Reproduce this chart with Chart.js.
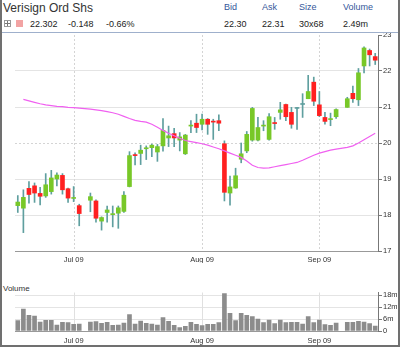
<!DOCTYPE html>
<html><head><meta charset="utf-8">
<script src="https://cdn.jsdelivr.net/npm/chart.js@4.4.0/dist/chart.umd.min.js"></script>
<style>
html,body{margin:0;padding:0;background:#fff;}
#frame{position:relative;width:400px;height:347px;overflow:hidden;font-family:"Liberation Sans",Arial,sans-serif;background:#fff;}
.t{position:absolute;white-space:nowrap;line-height:10px;}
canvas{position:absolute;left:0;}
</style></head><body>
<div id="frame">
  <div class="t" style="left:3px;top:1px;font-size:12px;line-height:14px;color:#333;">Verisign Ord Shs</div>
  <div class="t" style="left:224px;top:2px;font-size:9px;color:#34569a;">Bid</div>
  <div class="t" style="left:262px;top:2px;font-size:9px;color:#34569a;">Ask</div>
  <div class="t" style="left:299px;top:2px;font-size:9px;color:#34569a;">Size</div>
  <div class="t" style="left:343px;top:2px;font-size:9px;color:#34569a;">Volume</div>
  <div style="position:absolute;left:4px;top:20px;width:5px;height:5px;border:1px solid #999;"></div>
  <div style="position:absolute;left:5px;top:23px;width:5px;height:1px;background:#777;"></div>
  <div style="position:absolute;left:7px;top:21px;width:1px;height:5px;background:#777;"></div>
  <div style="position:absolute;left:16px;top:20px;width:7px;height:7px;background:#f2a3a3;"></div>
  <div class="t" style="left:30px;top:19px;font-size:9px;color:#222;">22.302</div>
  <div class="t" style="left:68px;top:19px;font-size:9px;color:#222;">-0.148</div>
  <div class="t" style="left:106px;top:19px;font-size:9px;color:#222;">-0.66%</div>
  <div class="t" style="left:224px;top:19px;font-size:9px;color:#222;">22.30</div>
  <div class="t" style="left:262px;top:19px;font-size:9px;color:#222;">22.31</div>
  <div class="t" style="left:299px;top:19px;font-size:9px;color:#222;">30x68</div>
  <div class="t" style="left:343px;top:19px;font-size:9px;color:#222;">2.49m</div>
  <div style="position:absolute;left:0;top:32px;width:400px;height:1px;background:#9fb0cc;"></div>
  <canvas id="price" width="400" height="230" style="top:33px"></canvas>
  <div class="t" style="left:3px;top:284px;font-size:8px;color:#333;">Volume</div>
  <canvas id="vol" width="400" height="60" style="top:286px"></canvas>
  <div style="position:absolute;left:0;top:0;width:400px;height:347px;box-sizing:border-box;border:2px solid #707070;border-top:none;pointer-events:none;"></div>
</div>
<script>
const dates = ['06-17','06-18','06-19','06-22','06-23','06-24','06-25','06-26','06-29','06-30',
 '07-01','07-02','07-03','07-06','07-07','07-08','07-09','07-10','07-13','07-14','07-15','07-16','07-17','07-20','07-21','07-22','07-23','07-24','07-27','07-28','07-29','07-30','07-31',
 '08-03','08-04','08-05','08-06','08-07','08-10','08-11','08-12','08-13','08-14','08-17','08-18','08-19','08-20','08-21','08-24','08-25','08-26','08-27','08-28','08-31',
 '09-01','09-02','09-03','09-04','09-07','09-08','09-09','09-10','09-11','09-14','09-15'];
const opens = [18.26,18.19,18.74,18.81,18.60,18.53,18.65,19.00,19.10,18.73,18.46,18.26,null,18.41,18.39,17.83,18.07,18.01,18.05,18.10,18.79,19.67,19.71,19.84,19.87,19.75,19.92,20.14,20.26,20.08,19.70,20.47,20.55,20.52,20.66,20.60,20.62,19.98,18.61,18.75,19.55,19.78,20.08,20.08,20.47,20.10,20.56,20.85,21.07,20.85,20.96,21.07,21.23,21.69,21.06,20.71,20.65,20.73,null,20.99,21.38,21.20,22.14,22.57,22.40];
const highs = [18.54,18.70,18.93,18.89,18.77,19.15,19.24,19.17,19.15,18.75,18.79,18.30,null,18.61,18.42,17.95,18.25,18.25,18.25,18.65,19.76,19.73,19.94,19.92,19.97,19.96,20.68,20.47,20.41,20.29,20.24,20.62,20.80,20.80,20.68,20.66,20.78,20.06,19.08,19.30,20.00,20.32,20.99,20.71,20.62,20.82,20.71,21.13,21.08,20.99,20.99,21.37,21.88,21.83,21.43,20.85,20.83,20.95,null,21.27,21.58,22.07,22.67,22.61,22.49];
const lows = [18.07,17.51,18.33,18.35,18.28,18.49,18.58,18.81,18.58,18.35,18.37,17.70,null,18.09,17.80,17.58,17.80,17.67,17.63,18.07,18.78,19.39,19.40,19.54,19.62,19.49,19.77,19.90,19.90,19.78,19.68,20.29,20.29,20.36,20.24,20.10,20.34,18.39,18.27,18.74,19.45,19.73,20.05,20.06,20.34,20.08,20.38,20.66,20.62,20.41,20.38,20.71,21.23,21.04,20.73,20.52,20.48,20.68,null,20.99,21.13,21.04,21.95,22.14,22.18];
const closes = [18.36,18.49,18.57,18.61,18.52,18.84,19.03,19.11,18.70,18.47,18.48,18.04,null,18.51,17.91,17.93,18.14,18.03,18.20,18.55,19.65,19.65,19.80,19.85,19.94,19.90,20.35,20.20,20.14,20.17,20.22,20.49,20.43,20.66,20.52,20.58,20.55,18.63,18.78,19.09,19.70,20.24,20.96,20.43,20.49,20.73,20.54,20.92,20.73,20.52,20.96,21.07,21.43,21.16,20.76,20.60,20.67,20.93,null,21.23,21.23,21.95,22.64,22.45,22.30];
const movingAvg = [null,21.21,21.17,21.13,21.09,21.06,21.04,21.02,21.01,20.99,20.98,20.97,null,20.94,20.92,20.90,20.87,20.84,20.80,20.74,20.68,20.63,20.60,20.58,20.52,20.44,20.35,20.27,20.20,20.13,20.07,20.04,20.01,19.98,19.94,19.89,19.84,19.78,19.72,19.66,19.60,19.50,19.38,19.32,19.30,19.31,19.34,19.37,19.40,19.43,19.46,19.52,19.59,19.66,19.72,19.76,19.80,19.83,null,19.88,19.92,20.00,20.09,20.18,20.27];
const volumes = [5.2,11.0,7.8,7.5,4.5,5.3,5.3,3.0,4.3,4.2,3.3,3.5,null,4.5,4.7,3.8,4.3,2.8,3.0,4.0,8.2,3.5,5.0,3.8,3.5,3.0,6.7,4.8,2.8,1.7,2.3,4.3,3.3,2.7,3.3,3.3,4.2,18.8,8.8,5.2,8.8,7.8,7.2,6.0,4.2,5.5,3.7,5.5,4.2,4.3,4.3,3.5,7.2,4.2,5.5,3.2,2.8,4.0,null,4.3,4.3,4.8,4.5,3.7,2.49];
const monthTickDates = ['07-01','08-03','09-01'];
const monthTickLabels = ['Jul 09','Aug 09','Sep 09'];
const priceTicks = [17,18,19,20,21,22,23];
const volumeTicks = [0,6,12,18];
const volumeTickLabels = ['0','6m','12m','18m'];

const UP = '#78c828', DOWN = '#ff2020', FLAT = '#5f9f9f', WICK = '#5f9f9f';
const monthIdx = monthTickDates.map(d => dates.indexOf(d));
const bodies = opens.map((o,i) => o == null ? null : [Math.min(o, closes[i]), Math.max(o, closes[i])]);
const bodyColors = opens.map((o,i) => o == null ? UP : (closes[i] > o ? UP : closes[i] < o ? DOWN : FLAT));
const wicks = lows.map((l,i) => l == null ? null : [l, highs[i]]);

Chart.defaults.font.family = '"Liberation Sans", Arial, sans-serif';
Chart.defaults.color = '#333';

const refLines = {
  id: 'refLines',
  beforeDatasetsDraw(chart, args, opts) {
    const {ctx, chartArea: a, scales: {x, y}} = chart;
    ctx.save();
    ctx.lineWidth = 1;
    ctx.strokeStyle = opts.color;
    ctx.setLineDash(opts.dash || []);
    monthIdx.forEach(i => {
      const px = Math.round(x.getPixelForValue(i)) + 0.5;
      ctx.beginPath(); ctx.moveTo(px, a.top); ctx.lineTo(px, a.bottom); ctx.stroke();
    });
    (opts.hLines || []).forEach(v => {
      const py = Math.round(y.getPixelForValue(v)) + 0.5;
      ctx.beginPath(); ctx.moveTo(a.left, py); ctx.lineTo(a.right, py); ctx.stroke();
    });
    ctx.restore();
  }
};

const xLabel = (v, i) => { const k = monthIdx.indexOf(i); return k >= 0 ? monthTickLabels[k] : ''; };
const zeroPad = s => { s.paddingLeft = 0; s.paddingRight = 0; s.paddingTop = 0; s.paddingBottom = 0; };

new Chart(document.getElementById('price'), {
  type: 'bar',
  data: {
    labels: dates,
    datasets: [
      {type: 'line', data: movingAvg, borderColor: '#f060f0', borderWidth: 1.2, pointRadius: 0, spanGaps: true, tension: 0},
      {data: bodies, backgroundColor: bodyColors, barThickness: 4, grouped: false, minBarLength: 1},
      {data: wicks, backgroundColor: WICK, barThickness: 1, grouped: false}
    ]
  },
  options: {
    responsive: false, animation: false, devicePixelRatio: 1,
    layout: {padding: {left: 15, top: 2, right: 0, bottom: 0}},
    plugins: {legend: {display: false}, tooltip: {enabled: false},
      refLines: {color: '#d4d4d4', dash: [2, 2], hLines: [20]}},
    scales: {
      x: {
        offset: true,
        grid: {display: false, drawTicks: false, offset: false},
        border: {color: '#999'},
        ticks: {autoSkip: false, maxRotation: 0, minRotation: 0, padding: 4, font: {size: 7.5}, color: '#333', callback: xLabel},
        afterFit: s => { s.height = 12; zeroPad(s); }
      },
      y: {
        position: 'right', min: 17, max: 23,
        afterBuildTicks: s => { s.ticks = priceTicks.map(v => ({value: v})); },
        grid: {color: c => (c.tick && (c.tick.value === 20 || c.tick.value === 23 || c.tick.value === 17)) ? 'rgba(0,0,0,0)' : '#e4e4e4',
               tickColor: '#777', tickLength: 4, drawTicks: true},
        border: {color: '#777'},
        ticks: {padding: 1, font: {size: 7.5}, color: '#333'},
        afterFit: s => { s.width = 22; zeroPad(s); }
      }
    }
  },
  plugins: [refLines]
});

new Chart(document.getElementById('vol'), {
  type: 'bar',
  data: {
    labels: dates,
    datasets: [{data: volumes, backgroundColor: '#8c8c8c', barThickness: 4}]
  },
  options: {
    responsive: false, animation: false, devicePixelRatio: 1,
    layout: {padding: {left: 15, top: 6.5, right: 0, bottom: 0}},
    plugins: {legend: {display: false}, tooltip: {enabled: false},
      refLines: {color: '#e0e0e0', dash: [], hLines: []}},
    scales: {
      x: {
        offset: true,
        grid: {display: false, drawTicks: false, offset: false},
        border: {color: '#999'},
        ticks: {autoSkip: false, maxRotation: 0, minRotation: 0, padding: 5, font: {size: 7.5}, color: '#333', callback: xLabel},
        afterFit: s => { s.height = 15; zeroPad(s); }
      },
      y: {
        position: 'right', min: 0, max: 19.3,
        afterBuildTicks: s => { s.ticks = volumeTicks.map(v => ({value: v})); },
        grid: {color: c => (c.tick && c.tick.value === 0) ? 'rgba(0,0,0,0)' : '#e4e4e4', tickColor: '#777', tickLength: 4},
        border: {color: '#777'},
        ticks: {padding: 1, font: {size: 7.5}, color: '#333', callback: (v) => { const k = volumeTicks.indexOf(v); return k >= 0 ? volumeTickLabels[k] : ''; }},
        afterFit: s => { s.width = 22; zeroPad(s); }
      }
    }
  },
  plugins: [refLines]
});
</script>
</body></html>
